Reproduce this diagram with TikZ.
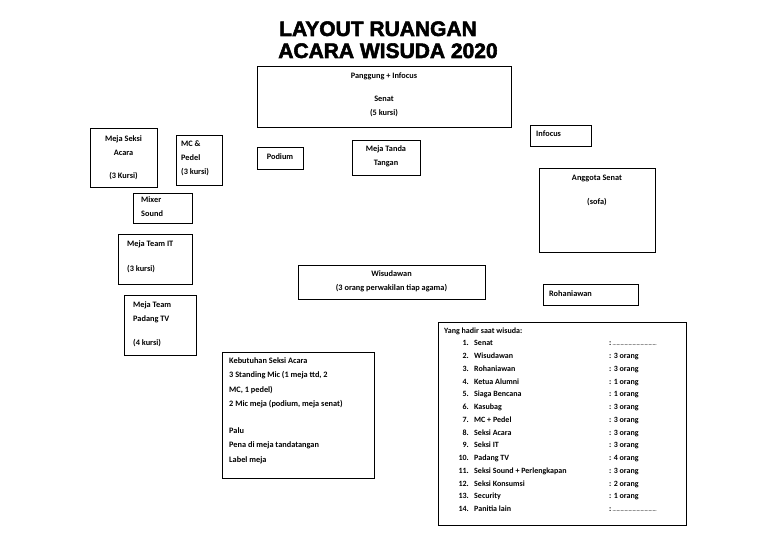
\documentclass[tikz,border=0pt]{standalone}
\usepackage{fontspec}
\setmainfont{Carlito}
\newfontfamily\titlefont[FakeBold=2.5]{Liberation Sans Bold}
\begin{document}
\begin{tikzpicture}[x=1pt,y=-1pt,
  box/.style={draw,line width=0.9pt,anchor=north west,inner sep=0pt},
  t/.style={font=\bfseries\fontsize{8.3}{14}\selectfont,inner sep=0pt,align=center},
  tl/.style={font=\bfseries\fontsize{8.3}{14}\selectfont,inner sep=0pt,align=left,anchor=west},
  tb/.style={font=\bfseries\fontsize{8}{12}\selectfont,inner sep=0pt,anchor=base west}]
\useasboundingbox (0,0) rectangle (768,543);
\node[font=\titlefont\fontsize{21}{21}\selectfont,inner sep=0pt,anchor=base] (title1) at (378,36) {LAYOUT RUANGAN};
\node[font=\titlefont\fontsize{21}{21}\selectfont,inner sep=0pt,anchor=base] (title2) at (388,58) {ACARA WISUDA 2020};
% boxes
\node[box,minimum width=254,minimum height=61] (pg) at (257,66) {};
\node[t] (pgt) at (384,76) {Panggung + Infocus};
\node[t] (pgs) at (384,106) {Senat\\(5 kursi)};
\node[box,minimum width=67,minimum height=59] (msa) at (90,128) {};
\node[t] (msat) at (123.5,146) {Meja Seksi\\Acara};
\node[t] (msak) at (123.5,176) {(3 Kursi)};
\node[box,minimum width=46,minimum height=50] (mc) at (176,135) {};
\node[tl] (mct) at (181,158) {MC \&\\Pedel\\(3 kursi)};
\node[box,minimum width=46,minimum height=22] (pod) at (257,147) {};
\node[t] (podt) at (280,157) {Podium};
\node[box,minimum width=68,minimum height=35] (mtt) at (352,140) {};
\node[t] (mttt) at (386,156) {Meja Tanda\\Tangan};
\node[box,minimum width=61,minimum height=21] (inf) at (530,125) {};
\node[tl] (inft) at (536,134) {Infocus};
\node[box,minimum width=116,minimum height=84] (as) at (539,168) {};
\node[t] (ast) at (597,178) {Anggota Senat};
\node[t] (ass) at (597,202) {(sofa)};
\node[box,minimum width=59,minimum height=30] (mix) at (133,193) {};
\node[tl] (mixt) at (141,207) {Mixer\\Sound};
\node[box,minimum width=74,minimum height=50] (it) at (118,234) {};
\node[tl] (itt) at (127,244) {Meja Team IT};
\node[tl] (itk) at (127,269) {(3 kursi)};
\node[box,minimum width=72,minimum height=60] (ptv) at (124,295) {};
\node[tl] (ptvt) at (133,312) {Meja Team\\Padang TV};
\node[tl] (ptvk) at (133,343) {(4 kursi)};
\node[box,minimum width=187,minimum height=34] (wis) at (298,265) {};
\node[t] (wist) at (391.5,281) {Wisudawan\\(3 orang perwakilan tiap agama)};
\node[box,minimum width=95,minimum height=21] (roh) at (543,284) {};
\node[tl] (roht) at (549,294) {Rohaniawan};
\node[box,minimum width=152,minimum height=126] (keb) at (222,352) {};
\node[tl,anchor=north west,font=\bfseries\fontsize{8.3}{14.5}\selectfont] (kebt) at (229,357) {Kebutuhan Seksi Acara\\3 Standing Mic (1 meja ttd, 2\\MC, 1 pedel)\\2 Mic meja (podium, meja senat)\\[12pt]Palu\\Pena di meja tandatangan\\Label meja};
\node[box,minimum width=248,minimum height=203] (lst) at (438,322) {};
\node[tb] (lsth) at (444,333) {Yang hadir saat wisuda:};
\foreach \n/\name/\v [count=\i] in {1./Senat/x, 2./Wisudawan/: 3 orang, 3./Rohaniawan/: 3 orang, 4./Ketua Alumni/: 1 orang, 5./Siaga Bencana/: 1 orang, 6./Kasubag/: 3 orang, 7./MC + Pedel/: 3 orang, 8./Seksi Acara/: 3 orang, 9./Seksi IT/: 3 orang, 10./Padang TV/: 4 orang, 11./Seksi Sound + Perlengkapan/: 3 orang, 12./Seksi Konsumsi/: 2 orang, 13./Security/: 1 orang, 14./Panitia lain/x}{
  \node[tb,anchor=base east] (ln\i) at (469,{333+\i*12.75}) {\n};
  \node[tb] (lt\i) at (474,{333+\i*12.75}) {\name};
  \node[tb] (lv\i) at (609,{333+\i*12.75}) {\ifnum\i=1 :\,{\fontsize{5}{5}\selectfont.................................}\else\ifnum\i=14 :\,{\fontsize{5}{5}\selectfont.................................}\else\v\fi\fi};
}
\end{tikzpicture}
\end{document}
